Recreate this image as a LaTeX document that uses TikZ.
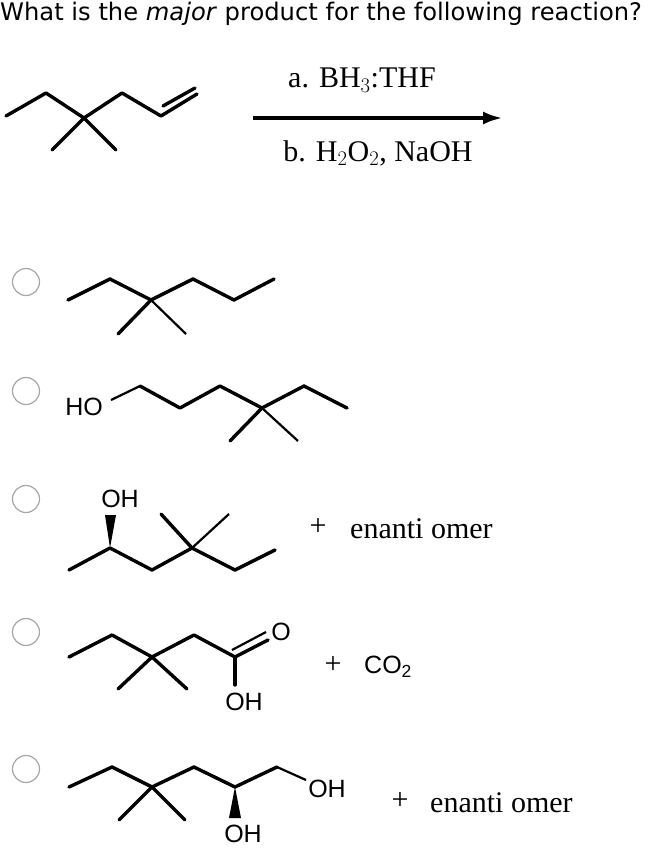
\documentclass[tikz,border=0pt]{standalone}
\usepackage{fontspec}
\setmainfont{Liberation Serif}
\newfontfamily\titlefont{DejaVu Sans}
\newfontfamily\chemfont{Liberation Sans}
\usetikzlibrary{arrows.meta}
\begin{document}
\begin{tikzpicture}[x=1pt,y=-1pt,
  bond/.style={line width=3.4pt,line cap=round,line join=round},
  thin/.style={line width=2.2pt},
  radio/.style={circle,draw=black!35,line width=1.2pt,minimum size=27pt,inner sep=0pt,fill=white},
  chem/.style={font=\chemfont\fontsize{25}{26}\selectfont,inner sep=0pt},
  rea/.style={font=\fontsize{30}{32}\selectfont,inner sep=0pt}]
\useasboundingbox (0,0) rectangle (660,854);
\node[anchor=west,inner sep=0pt,font=\titlefont\fontsize{24.2}{26}\selectfont] (title) at (0,14) {What is the \textit{major} product for the following reaction?};
% starting material
\draw[bond] (6,116)--(46,93)--(84,118)--(122,93)--(161,116)--(197,94);
\draw[bond] (163,106)--(195,88);
\draw[bond] (84,118)--(52,150); \draw[bond] (84,118)--(116,150);
\coordinate (a1) at (253,118); \coordinate (a2) at (503,118);
\draw[line width=4pt,-{Latex[length=20pt,width=13pt]}] (a1)--(a2);
\node[rea] (r1) at (362,80) {a. BH$_3$:THF};
\node[rea] (r2) at (378,153) {b. H$_2$O$_2$, NaOH};
% radios
\foreach \y/\n in {282/c1,391/c2,499/c3,632/c4,769/c5} \node[radio] (\n) at (26,\y) {};
% option 1
\draw[bond] (68,300)--(110,279)--(151,300)--(193,279)--(234,300)--(274,279);
\draw[bond] (151,300)--(118,334); \draw[thin] (151,300)--(186,334);
% option 2
\node[chem] (ho) at (84,407) {HO};
\draw[thin] (111,400)--(140,386);
\draw[bond] (140,386)--(180,408)--(220,386)--(262,408)--(304,386)--(347,408);
\draw[bond] (262,408)--(230,441); \draw[thin] (262,408)--(298,441);
% option 3
\node[chem] (oh3) at (120,499) {OH};
\draw[bond] (69,570)--(110,548)--(152,570)--(192,548)--(235,570)--(275,550);
\draw[bond] (192,548)--(161,514); \draw[thin] (192,548)--(229,514);
\fill (110,548)--(105,515)--(116,515)--cycle;
\node[rea] (p3) at (318,527) {+};
\node[rea,anchor=west] (e3) at (350,529) {enanti omer};
% option 4
\draw[bond] (69,657)--(112,635)--(152,657)--(194,635)--(235,657);
\draw[bond] (152,657)--(118,689); \draw[bond] (152,657)--(187,689);
\node[chem] (o4) at (281,632) {O};
\draw[bond] (235,657)--(268,640); \draw[thin] (232,650)--(266,632);
\draw[bond] (235,657)--(235,685);
\node[chem] (oh4) at (244,702) {OH};
\node[rea] (p4) at (333,665) {+};
\node[chem,anchor=west] (co2) at (364,667) {CO\textsubscript{2}};
% option 5
\draw[bond] (69,787)--(112,767)--(152,787)--(194,767)--(235,787)--(277,767);
\draw[thin] (277,767)--(306,780);
\node[chem] (oh5a) at (327,789) {OH};
\draw[bond] (152,787)--(119,820); \draw[bond] (152,787)--(185,820);
\fill (235,787)--(229,818)--(241,818)--cycle;
\node[chem] (oh5b) at (243,834) {OH};
\node[rea] (p5) at (400,801) {+};
\node[rea,anchor=west] (e5) at (430,803) {enanti omer};
\end{tikzpicture}
\end{document}
